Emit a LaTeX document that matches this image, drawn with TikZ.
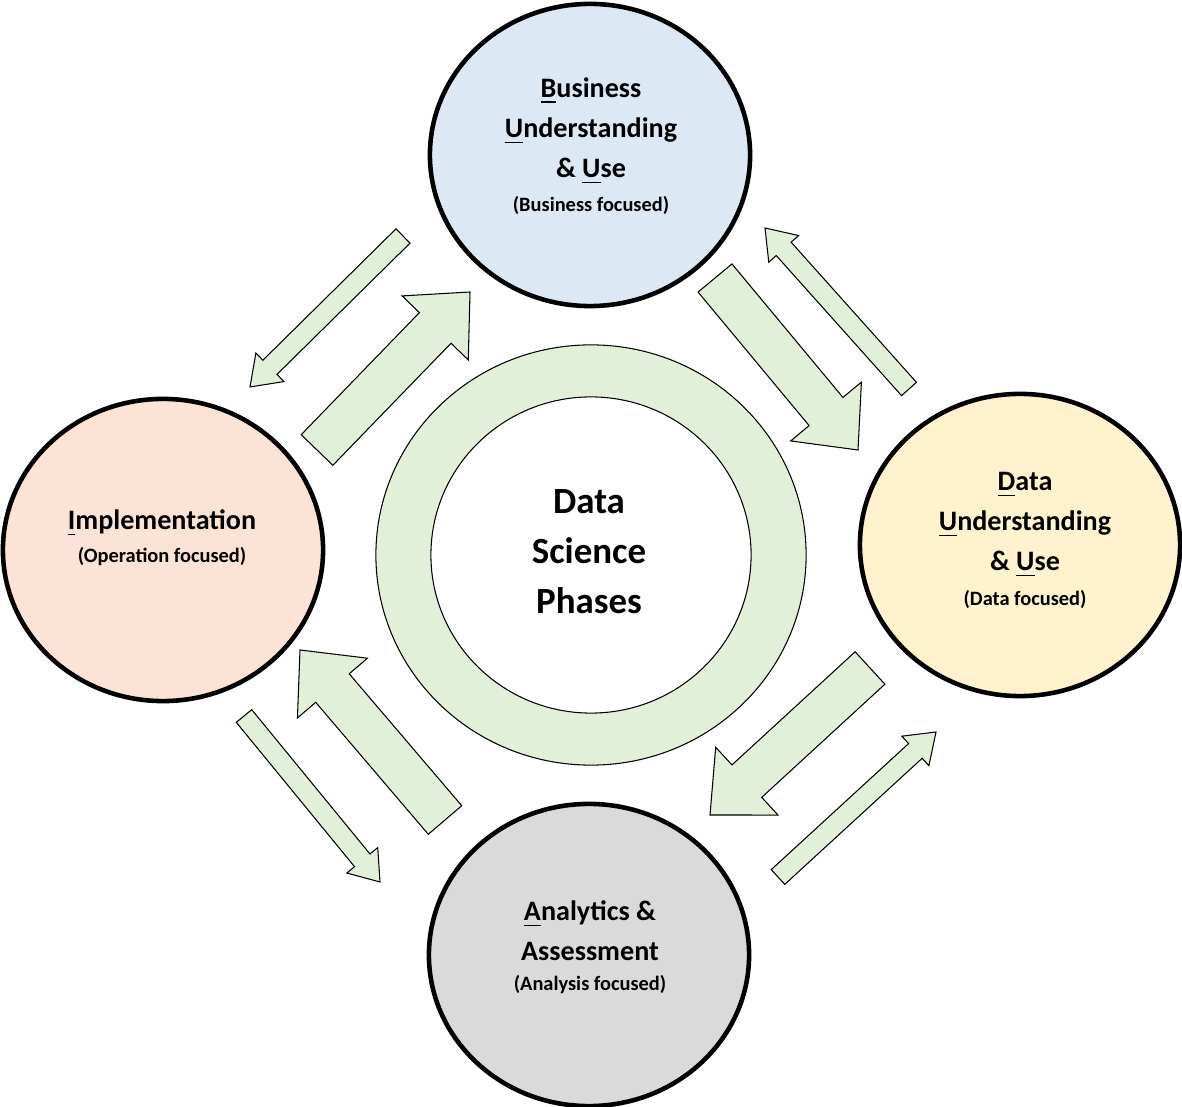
\documentclass[tikz,border=0pt]{standalone}
\usepackage{fontspec}
\setmainfont{Carlito}
\usetikzlibrary{shapes.geometric}
\usetikzlibrary{calc}
\definecolor{bizblue}{HTML}{DDE8F5}
\definecolor{datayellow}{HTML}{FFF2CC}
\definecolor{implpink}{HTML}{FBE4D6}
\definecolor{anagray}{HTML}{DADADA}
\definecolor{ringgreen}{HTML}{E2EFD9}
\tikzset{
phase/.style={ellipse,draw=black,line width=1.3pt,minimum width=3.2cm,minimum height=3.02cm},
arrowfill/.style={fill=ringgreen,draw=black,line width=0.3pt},
title/.style={font=\bfseries\fontsize{8}{11.4}\selectfont,align=center},
sub/.style={font=\bfseries\fontsize{5.8}{7}\selectfont,align=center}
}
\newcommand{\blockarrow}[5]{%
\coordinate (bt) at (#1); \coordinate (bp) at (#2);
\coordinate (bh) at ($(bp)!#5!(bt)$);
\filldraw[arrowfill] ($(bt)!#3!90:(bp)$) -- ($(bh)!#3!90:(bp)$) -- ($(bh)!#4!90:(bp)$) -- (bp) -- ($(bh)!#4!-90:(bp)$) -- ($(bh)!#3!-90:(bp)$) -- ($(bt)!#3!-90:(bp)$) -- cycle;}
\begin{document}
\begin{tikzpicture}[x=0.01cm,y=-0.01cm]
\useasboundingbox (0,0) rectangle (1182,1107);
% ring
\filldraw[fill=ringgreen,draw=black,line width=0.3pt,even odd rule]
 (591,555) ellipse [x radius=2.15cm,y radius=2.1cm]
 (591,555) ellipse [x radius=1.6cm,y radius=1.58cm];
\node[font=\bfseries\fontsize{10.5}{14.2}\selectfont,align=center] (center) at (589,552) {Data\\Science\\Phases};
% phases
\node[phase,fill=bizblue] (biz) at (590,155) {};
\node[phase,fill=datayellow] (data) at (1020,545) {};
\node[phase,fill=implpink] (impl) at (163,550) {};
\node[phase,fill=anagray] (ana) at (589,955) {};
\node[title] (bizt) at (591,131) {\underline{B}usiness\\\underline{U}nderstanding\\\& \underline{U}se};
\node[sub] (bizs) at (591,205) {(Business focused)};
\node[title] (datat) at (1025,525) {\underline{D}ata\\\underline{U}nderstanding\\\& \underline{U}se};
\node[sub] (datas) at (1025,599) {(Data focused)};
\node[title] (implt) at (162,523) {\underline{I}mplementation};
\node[sub] (impls) at (162,557) {(Operation focused)};
\node[title] (anat) at (590,931) {\underline{A}nalytics \&\\Assessment};
\node[sub] (anas) at (590,985) {(Analysis focused)};
% big arrows
\blockarrow{317,450}{470,292}{0.22cm}{0.46cm}{0.5cm}
\blockarrow{715,278}{858,450}{0.22cm}{0.46cm}{0.5cm}
\blockarrow{870,668}{710,815}{0.22cm}{0.46cm}{0.5cm}
\blockarrow{445,820}{300,650}{0.22cm}{0.46cm}{0.5cm}
% thin arrows
\blockarrow{403,236}{250,387}{0.1cm}{0.2cm}{0.28cm}
\blockarrow{909,389}{765,228}{0.1cm}{0.2cm}{0.28cm}
\blockarrow{778,877}{936,732}{0.1cm}{0.2cm}{0.28cm}
\blockarrow{244,716}{380,882}{0.1cm}{0.2cm}{0.28cm}
\end{tikzpicture}
\end{document}
